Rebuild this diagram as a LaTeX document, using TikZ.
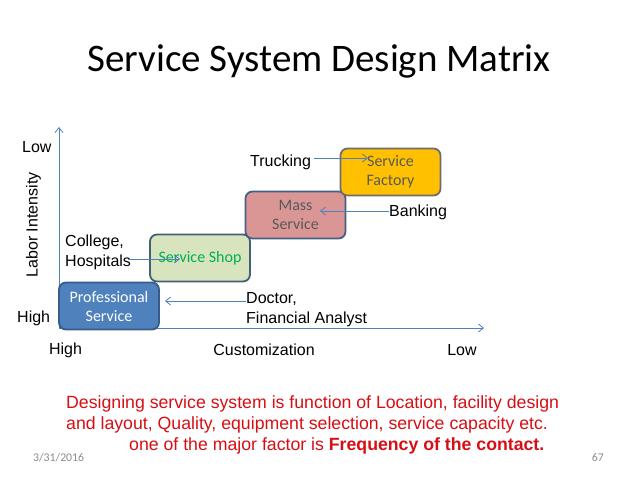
\documentclass[tikz,border=0pt]{standalone}
\usepackage{fontspec}
\setmainfont{Liberation Sans}
\newfontfamily\calfont{Carlito}
\usetikzlibrary{arrows.meta}
\definecolor{axisblue}{RGB}{79,129,189}
\definecolor{profblue}{RGB}{79,129,189}
\definecolor{profborder}{RGB}{56,93,138}
\definecolor{shopfill}{RGB}{215,228,189}
\definecolor{shopborder}{RGB}{70,95,120}
\definecolor{shoptext}{RGB}{0,176,80}
\definecolor{massfill}{RGB}{217,150,148}
\definecolor{massborder}{RGB}{70,95,135}
\definecolor{factfill}{RGB}{255,192,0}
\definecolor{factborder}{RGB}{110,110,110}
\definecolor{boxtext}{RGB}{89,89,89}
\definecolor{redtext}{RGB}{215,15,20}
\definecolor{foot}{RGB}{140,140,140}
\begin{document}
\begin{tikzpicture}[x=1pt,y=-1pt,
  mbox/.style={draw, line width=1.8pt, rounded corners=7pt, minimum width=100pt, minimum height=47pt, align=center, inner sep=0pt, font=\calfont\fontsize{16}{19}\selectfont},
  lbl/.style={font=\fontsize{16}{20}\selectfont, inner sep=0pt, align=left},
  axis/.style={draw=axisblue, line width=0.8pt, -{Straight Barb[length=5pt,width=8pt]}},
  conn/.style={draw=axisblue, line width=0.8pt, -{Straight Barb[length=5pt,width=8pt]}},
  redl/.style={font=\fontsize{17.7}{21}\selectfont, text=redtext, inner sep=0pt, anchor=west}
]
\useasboundingbox (0,0) rectangle (638,479);
\fill[white] (0,0) rectangle (638,479);
\node[font=\calfont\fontsize{39}{44}\selectfont, inner sep=0pt] (title) at (319,61) {Service System Design Matrix};

% axes
\coordinate (origin) at (59,328);
\coordinate (ytip) at (59,127);
\coordinate (xtip) at (484,328);
\draw[axis] (origin) -- (ytip);
\draw[axis] (origin) -- (xtip);

% boxes
\node[mbox, fill=profblue, draw=profborder, text=white] (prof) at (109,306) {Professional\\Service};
\node[mbox, fill=shopfill, draw=shopborder, text=shoptext] (shop) at (200,258) {Service Shop};
\node[mbox, fill=massfill, draw=massborder, text=boxtext] (mass) at (295.5,215) {Mass\\Service};
\node[mbox, fill=factfill, draw=factborder, text=boxtext] (fact) at (390.5,172) {Service\\Factory};

% axis labels
\node[lbl, anchor=west] (ylow) at (22,147) {Low};
\node[lbl, anchor=west] (yhigh) at (17,318) {High};
\node[lbl, rotate=90] (ylab) at (33.5,225) {Labor Intensity};
\node[lbl] (xhigh) at (65.5,350) {High};
\node[lbl] (xlab) at (264,350) {Customization};
\node[lbl] (xlow) at (462,350) {Low};

% example labels
\node[lbl, anchor=west] (truck) at (250,162) {Trucking};
\node[lbl, anchor=west] (bank) at (389,212) {Banking};
\node[lbl, anchor=west] (coll) at (65,252) {College,\\Hospitals};
\node[lbl, anchor=west] (doc) at (246,310) {Doctor,\\Financial Analyst};

\coordinate (truckstart) at (314,158);
\coordinate (truckend) at (368,158);
\coordinate (bankstart) at (389,211);
\coordinate (bankend) at (320,211);
\coordinate (collstart) at (128,259);
\coordinate (collend) at (180,259);
\coordinate (docstart) at (246,301);
\coordinate (docend) at (165,301);
\draw[conn] (truckstart) -- (truckend);
\draw[conn] (bankstart) -- (bankend);
\draw[conn] (collstart) -- (collend);
\draw[conn] (docstart) -- (docend);

% bottom text
\node[redl] (r1) at (66,404) {Designing service system is function of Location, facility design};
\node[redl] (r2) at (66,425) {and layout, Quality, equipment selection, service capacity etc.};
\node[redl] (r3) at (129,446) {one of the major factor is \textbf{Frequency of the contact.}};

\node[font=\calfont\fontsize{11.8}{14}\selectfont, text=foot, anchor=west, inner sep=0pt] (date) at (33,458) {3/31/2016};
\node[font=\calfont\fontsize{11.8}{14}\selectfont, text=foot, anchor=east, inner sep=0pt] (page) at (604,458) {67};
\end{tikzpicture}
\end{document}
